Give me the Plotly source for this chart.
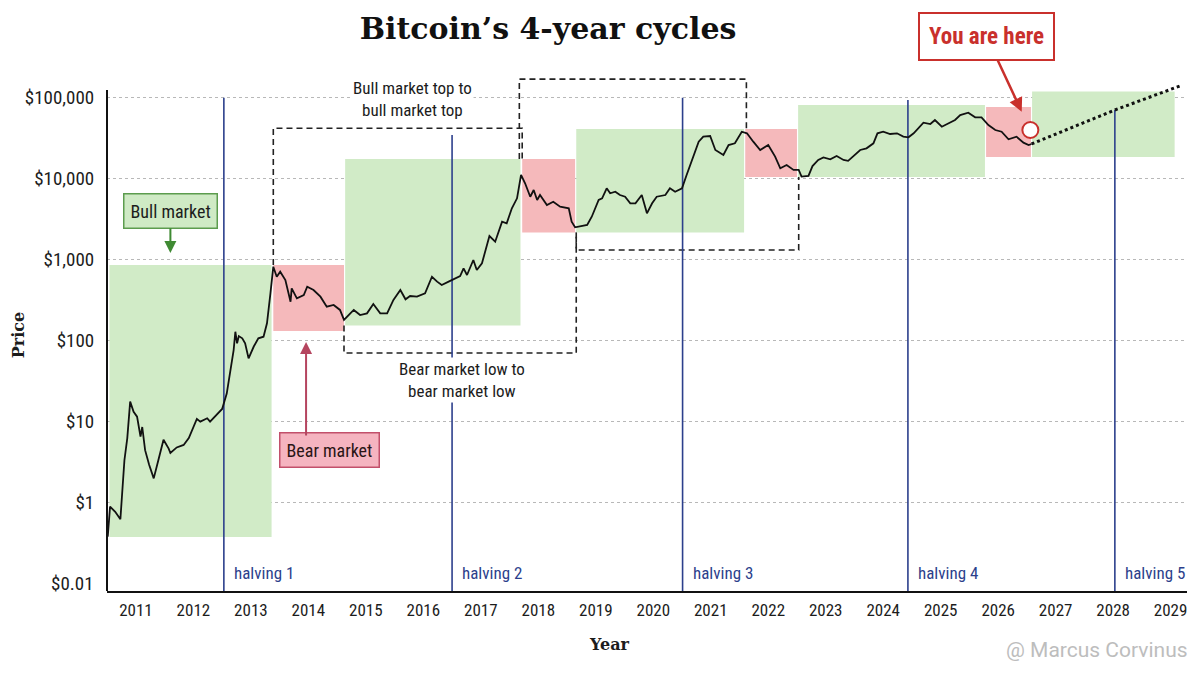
import plotly.graph_objects as go

# --- price history (decimal year, USD) ---
years = [2010.51, 2010.55, 2010.64, 2010.73, 2010.80, 2010.85, 2010.90, 2010.96, 2011.02, 2011.08,
         2011.11, 2011.16, 2011.23, 2011.31, 2011.39, 2011.48, 2011.57, 2011.60, 2011.71, 2011.83,
         2011.92, 2012.06, 2012.12, 2012.24, 2012.29, 2012.41, 2012.50, 2012.58, 2012.64, 2012.70,
         2012.73, 2012.76, 2012.79, 2012.85, 2012.90, 2012.96, 2013.05, 2013.13, 2013.22, 2013.28,
         2013.34, 2013.39, 2013.45, 2013.51, 2013.60, 2013.69, 2013.71, 2013.80, 2013.92, 2013.98,
         2014.09, 2014.21, 2014.32, 2014.44, 2014.55, 2014.62, 2014.73, 2014.79, 2014.90, 2015.02,
         2015.13, 2015.25, 2015.37, 2015.48, 2015.60, 2015.69, 2015.77, 2015.89, 2016.03, 2016.15,
         2016.24, 2016.32, 2016.44, 2016.53, 2016.64, 2016.70, 2016.76, 2016.87, 2016.93, 2017.02,
         2017.15, 2017.25, 2017.37, 2017.45, 2017.54, 2017.63, 2017.70, 2017.77, 2017.86, 2017.92,
         2017.98, 2018.03, 2018.15, 2018.26, 2018.38, 2018.53, 2018.58, 2018.64, 2018.73, 2018.85,
         2018.93, 2019.05, 2019.11, 2019.19, 2019.25, 2019.34, 2019.42, 2019.51, 2019.60, 2019.69,
         2019.80, 2019.89, 2019.98, 2020.06, 2020.21, 2020.29, 2020.38, 2020.50, 2020.58, 2020.70,
         2020.79, 2020.87, 2020.99, 2021.08, 2021.22, 2021.31, 2021.42, 2021.54, 2021.63, 2021.74,
         2021.86, 2022.00, 2022.12, 2022.21, 2022.32, 2022.44, 2022.53, 2022.58, 2022.70, 2022.77,
         2022.87, 2022.96, 2023.08, 2023.19, 2023.31, 2023.39, 2023.51, 2023.60, 2023.71, 2023.83,
         2023.90, 2024.00, 2024.12, 2024.24, 2024.35, 2024.44, 2024.53, 2024.61, 2024.70, 2024.82,
         2024.90, 2025.02, 2025.13, 2025.25, 2025.34, 2025.48, 2025.60, 2025.71, 2025.83, 2025.95,
         2026.06, 2026.18, 2026.32, 2026.44, 2026.53, 2026.58]
prices = [0.375, 0.88, 0.76, 0.615, 3.3, 6.2, 17.5, 13.1, 11.4, 6.45,
          8.5, 4.4, 2.9, 1.97, 3.3, 5.9, 4.6, 4.05, 4.75, 5.1,
          6.2, 10.7, 9.9, 10.9, 9.9, 12, 14.2, 22, 39, 76,
          128, 92, 113, 106, 92, 60, 84, 106, 111, 163,
          382, 815, 612, 706, 558, 301, 440, 331, 364, 461,
          420, 347, 261, 274, 238, 179, 216, 238, 206, 216,
          282, 216, 216, 316, 420, 322, 354, 347, 382, 612,
          532, 484, 532, 569, 625, 778, 643, 986, 741, 898,
          1950, 1660, 2930, 2800, 4300, 5710, 11100, 8750, 5970, 7230,
          5440, 6270, 4720, 5180, 4500, 4300, 2930, 2500, 2590, 2670,
          3380, 5440, 5710, 7590, 6580, 6890, 6270, 5970, 4950, 4950,
          6270, 3720, 4950, 5970, 6270, 7590, 6890, 7590, 11100, 19600,
          28600, 33000, 33600, 22600, 19600, 26000, 27300, 38000, 36300, 28600,
          22600, 26000, 18700, 13400, 14700, 12800, 12800, 10600, 10800, 14300,
          17000, 18300, 17300, 19000, 17000, 16600, 19600, 22600, 23700, 27300,
          36300, 38000, 35600, 36300, 33000, 32400, 36300, 41900, 49100, 47300,
          53000, 43800, 48300, 53000, 61100, 65300, 57300, 57300, 46000, 39900,
          38000, 30600, 33000, 27800, 26000, 26800]

# projected path after "now"
proj_years = [2026.58, 2028.03, 2029.2]
proj_prices = [26800, 70500, 143000]
now_year, now_price = 2026.56, 39900

# bull / bear phases (price band covered by each box)
phase_start = [2010.54, 2013.39, 2014.64, 2017.72, 2018.66, 2021.60, 2022.52, 2025.79, 2026.59]
phase_end = [2013.36, 2014.62, 2017.69, 2018.64, 2021.58, 2022.50, 2025.77, 2026.57, 2029.07]
phase_low = [0.37, 131, 153, 2160, 2160, 10500, 10500, 18500, 18500]
phase_high = [855, 855, 17500, 17500, 41000, 41000, 81300, 76700, 119000]
phase_kind = ["bull", "bear", "bull", "bear", "bull", "bear", "bull", "bear", "bull"]

# dashed brackets: top-to-top and low-to-low
top_start = [2013.39, 2017.67]
top_end = [2017.72, 2021.62]
top_level = [42000, 170000]
top_start_price = [855, 17500]
top_end_price = [17500, 41000]

low_start = [2014.62, 2018.66]
low_end = [2018.66, 2022.53]
low_level = [70, 1310]
low_start_price = [153, 2160]
low_end_price = [2160, 10500]

halving_year = [2012.53, 2016.50, 2020.51, 2024.43, 2028.03]
halving_top = [100000, 34600, 100000, 93700, 70500]
halving_label = ["halving 1", "halving 2", "halving 3", "halving 4", "halving 5"]

year_ticks = list(range(2011, 2030))
price_ticks = [1, 10, 100, 1000, 10000, 100000]
price_tick_text = ["$1", "$10", "$100", "$1,000", "$10,000", "$100,000"]

X_RANGE = [2010.497, 2029.285]
Y_RANGE = [-1.098, 5.355]  # log10

NARROW = "Liberation Sans Narrow, Roboto Condensed, Arial Narrow, Roboto, sans-serif"
SERIF = "DejaVu Serif, serif"
GREEN = "#d1ebc7"
RED = "#f5b9bb"
NAVY = "#2c3f8c"
INK = "#1c1c1c"

fig = go.Figure()

# phase boxes
for x0, x1, lo, hi, kind in zip(phase_start, phase_end, phase_low, phase_high, phase_kind):
    fig.add_trace(go.Scatter(
        x=[x0, x1, x1, x0, x0], y=[lo, lo, hi, hi, lo],
        mode="lines", fill="toself", line=dict(width=0),
        fillcolor=GREEN if kind == "bull" else RED, hoverinfo="skip"
    ))

# dashed brackets
bx, by = [], []
for x0, x1, lvl, p0, p1 in zip(top_start, top_end, top_level, top_start_price, top_end_price):
    bx += [x0, x0, x1, x1, None]
    by += [p0, lvl, lvl, p1, None]
for x0, x1, lvl, p0, p1 in zip(low_start, low_end, low_level, low_start_price, low_end_price):
    bx += [x0, x0, x1, x1, None]
    by += [p0, lvl, lvl, p1, None]
fig.add_trace(go.Scatter(x=bx, y=by, mode="lines",
                         line=dict(color="#222222", width=1.6, dash="6px,4px"), hoverinfo="skip"))

# halving lines
hx, hy = [], []
for h, top in zip(halving_year, halving_top):
    hx += [h, h, None]
    hy += [10 ** Y_RANGE[0], top, None]
fig.add_trace(go.Scatter(x=hx, y=hy, mode="lines", line=dict(color=NAVY, width=1.6), hoverinfo="skip"))

# price
fig.add_trace(go.Scatter(x=years, y=prices, mode="lines", line=dict(color="#111111", width=1.8)))
fig.add_trace(go.Scatter(x=proj_years, y=proj_prices, mode="lines",
                         line=dict(color="#111111", width=3, dash="dot")))
fig.add_trace(go.Scatter(x=[now_year], y=[now_price], mode="markers",
                         marker=dict(size=16, color="white", line=dict(color="#c9302c", width=2))))

annotations = []
for h, lab in zip(halving_year, halving_label):
    annotations.append(dict(x=h, y=-0.875, xref="x", yref="y", text=lab, showarrow=False,
                            xanchor="left", yanchor="middle", xshift=8,
                            font=dict(family=NARROW, size=17, color=NAVY)))

annotations += [
    dict(x=0, y=-1.0, xref="paper", yref="y", text="$0.01", showarrow=False, xanchor="right",
         yanchor="middle", xshift=-11, font=dict(family=NARROW, size=19, color=INK)),
    dict(x=2015.81, y=4.99, xref="x", yref="y", text="Bull market top to<br>bull market top",
         showarrow=False, bgcolor="white", xanchor="center", yanchor="middle",
         font=dict(family=NARROW, size=17, color=INK)),
    dict(x=2016.68, y=1.51, xref="x", yref="y", text="Bear market low to<br>bear market low",
         showarrow=False, bgcolor="white", xanchor="center", yanchor="middle",
         font=dict(family=NARROW, size=17, color=INK)),
    dict(x=2011.60, y=3.08, xref="x", yref="y", text="Bull market", showarrow=True,
         ax=0, ay=-42, arrowhead=2, arrowsize=1.2, arrowwidth=2, arrowcolor="#3f8a33",
         bgcolor="#cfeac5", bordercolor="#5c9c4e", borderwidth=1.5, borderpad=6,
         font=dict(family=NARROW, size=18, color=INK)),
    dict(x=2014.37, y=0.645, xref="x", yref="y", text="Bear market", showarrow=False,
         xanchor="center", yanchor="middle",
         bgcolor="#f5b4c0", bordercolor="#c2506b", borderwidth=1.5, borderpad=6,
         font=dict(family=NARROW, size=18, color="#2a1515")),
    dict(x=2013.96, y=1.98, xref="x", yref="y", text="", showarrow=True, ax=0, ay=95,
         arrowhead=2, arrowsize=1.2, arrowwidth=2, arrowcolor="#b5455f"),
    dict(x=2026.41, y=4.827, xref="x", yref="y", text="<b>You are here</b>", showarrow=True,
         ax=-35, ay=-75, arrowhead=2, arrowsize=1.1, arrowwidth=2.5, arrowcolor="#c9302c",
         bgcolor="white", bordercolor="#c9302c", borderwidth=2, borderpad=9,
         font=dict(family=NARROW, size=23, color="#c9302c")),
    dict(x=-0.0824, y=0.49, xref="paper", yref="paper", text="<b>Price</b>", textangle=-90,
         xanchor="center", yanchor="middle", showarrow=False,
         font=dict(family=SERIF, size=16, color=INK)),
    dict(x=0.4657, y=-0.1034, xref="paper", yref="paper", text="<b>Year</b>",
         xanchor="center", yanchor="middle", showarrow=False,
         font=dict(family=SERIF, size=16, color=INK)),
    dict(x=1.003, y=-0.113, xref="paper", yref="paper", text="@ Marcus Corvinus", xanchor="right",
         yanchor="middle", showarrow=False,
         font=dict(family="Roboto, sans-serif", size=21, color="#bdbdbd")),
]

# page body adds an 8px margin, so the figure is 8px smaller than the window
fig.update_layout(
    width=1191, height=667,
    margin=dict(l=99, r=12, t=61, b=84),
    paper_bgcolor="white", plot_bgcolor="white",
    showlegend=False,
    title=dict(text="<b>Bitcoin\u2019s 4-year cycles</b>", x=540 / 1191, xref="container",
               xanchor="center", y=1 - 20 / 667, yref="container", yanchor="middle",
               font=dict(family=SERIF, size=30, color="#111111")),
    annotations=annotations,
    shapes=[dict(type="line", xref="paper", yref="paper", x0=0, x1=0, y0=0, y1=0.96,
                 line=dict(color="#111111", width=2))],
)
fig.update_xaxes(
    range=X_RANGE, tickvals=year_ticks, ticktext=[str(y) for y in year_ticks],
    showline=True, linecolor="#111111", linewidth=2, showgrid=False, zeroline=False,
    ticks="outside", ticklen=3, tickcolor="rgba(0,0,0,0)",
    tickfont=dict(family=NARROW, size=17, color=INK),
)
fig.update_yaxes(
    type="log", range=Y_RANGE, tickvals=price_ticks, ticktext=price_tick_text,
    showline=False, zeroline=False, showgrid=True, gridcolor="#b8b8b8", griddash="dot", gridwidth=1,
    ticks="outside", ticklen=8, tickcolor="rgba(0,0,0,0)",
    tickfont=dict(family=NARROW, size=19, color=INK),
)

fig.write_html("out.html")
